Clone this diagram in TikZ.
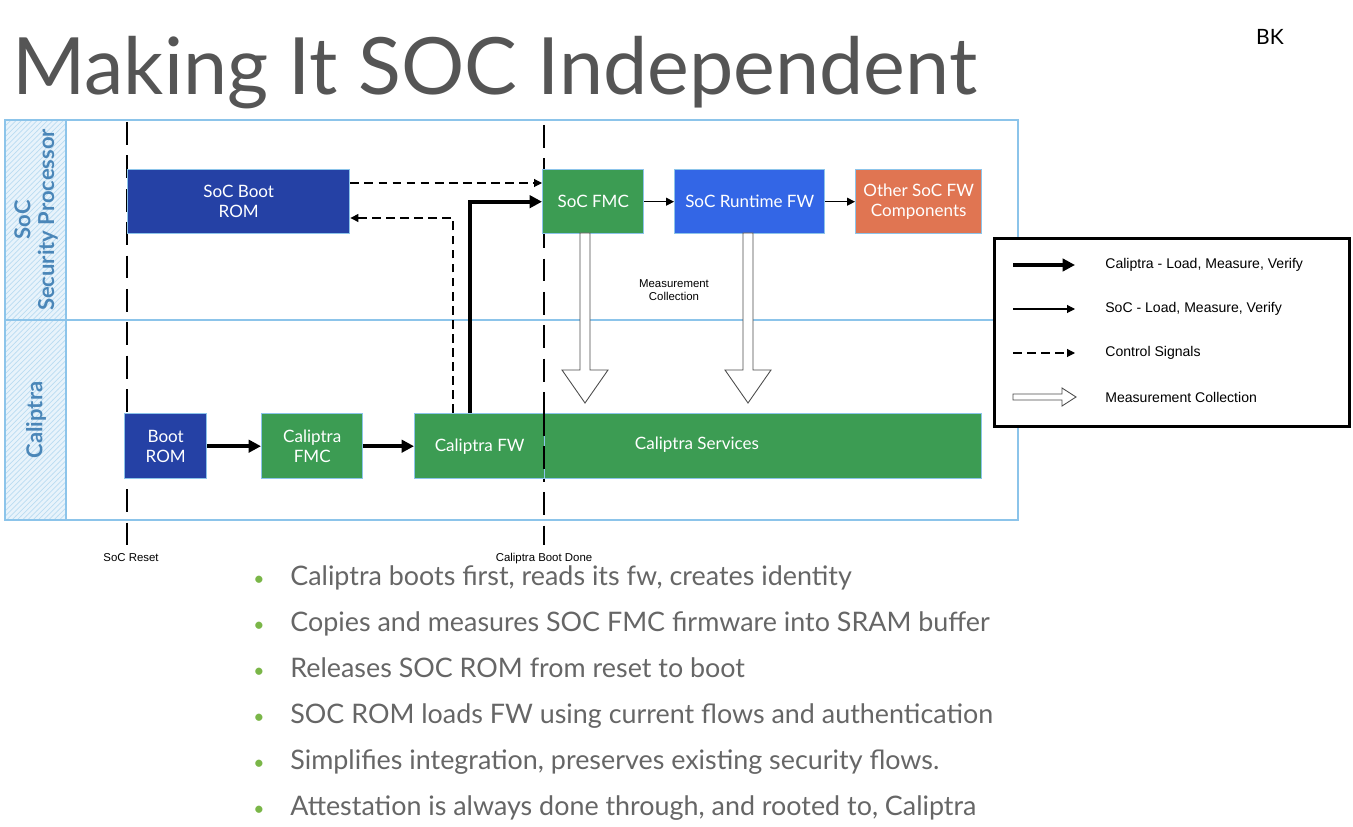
\documentclass[tikz,border=0pt]{standalone}
\usepackage{fontspec}
\setmainfont{Lato}
\newfontfamily\arialfont{Liberation Sans}
\usepackage{xcolor}
\usetikzlibrary{arrows.meta, positioning, calc, patterns}

\definecolor{laneblue}{HTML}{8CC4EA}
\definecolor{lanetext}{HTML}{4A86B8}
\definecolor{romblue}{HTML}{2541A5}
\definecolor{fwgreen}{HTML}{3C9C53}
\definecolor{rtblue}{HTML}{3366E6}
\definecolor{othorange}{HTML}{E07552}
\definecolor{titlegray}{HTML}{555555}
\definecolor{bulletgreen}{HTML}{7AB648}
\newcommand{\pxu}{0.02cm}

\begin{document}
\begin{tikzpicture}[
        x=0.02cm, y=-0.02cm,
        box/.style={rectangle, draw=laneblue, line width=0.8pt, text=white, align=center, font=\fontsize{9.7}{11.5}\selectfont, inner sep=0pt},
        lanelabel/.style={rotate=90, font=\bfseries\fontsize{12.5}{13.5}\selectfont, text=lanetext, align=center},
        small/.style={font=\arialfont\fontsize{6.5}{7.5}\selectfont, align=center},
        legtext/.style={font=\arialfont\fontsize{8}{9}\selectfont, anchor=west, inner sep=0pt},
        bullet/.style={font=\fontsize{15.3}{17}\selectfont, text=titlegray!90, anchor=base west, inner sep=0pt},
        thickarrow/.style={-{Triangle[length=7pt, width=7pt]}, line width=2.2pt},
        thinarrow/.style={-{Triangle[length=4.5pt, width=4.5pt]}, line width=0.6pt},
        ctrlarrow/.style={-{Triangle[length=4.5pt, width=4.5pt]}, line width=0.6pt, dash pattern=on 5pt off 3pt},
        timeline/.style={line width=1.2pt, dash pattern=on 13pt off 6pt},
        hollow/.style={draw=black!70, fill=white, line width=0.5pt},
    ]
        \useasboundingbox (0,0) rectangle (1353,827);

        % Title
        \node[anchor=base west, font=\fontsize{45}{50}\selectfont, text=titlegray, inner sep=0pt] (title) at (12,95) {Making It SOC Independent};
        \node[font=\fontsize{12}{13}\selectfont, text=black] (bk) at (1270,37) {BK};

        % Lanes
        \fill[laneblue!20] (5,120) rectangle (66,520);
        \fill[pattern=north east lines, pattern color=laneblue!60] (5,120) rectangle (66,520);
        \draw[laneblue, line width=1pt] (5,120) rectangle (1018,520);
        \draw[laneblue, line width=1pt] (66,120) -- (66,520);
        \draw[laneblue, line width=1pt] (5,320) -- (993,320);
        \node[lanelabel] (lanesoc) at (36,220) {SoC\\Security Processor};
        \node[lanelabel] (lanecal) at (36,420) {Caliptra};

        % Time lines
        \node[small, anchor=north] (reset) at (131,547) {SoC Reset};
        \node[small, anchor=north] (bootdone) at (544,547) {Caliptra Boot Done};
        \draw[timeline] (127,122) -- (127,545);
        \draw[timeline] (544,125) -- (544,545);

        % SoC security processor boxes
        \node[box, fill=romblue, minimum width={222*\pxu}, minimum height={64*\pxu}, anchor=north west] (socrom) at (127,169) {SoC Boot\\ROM};
        \node[box, fill=fwgreen, minimum width={101*\pxu}, minimum height={64*\pxu}, anchor=north west] (socfmc) at (542,169) {SoC FMC};
        \node[box, fill=rtblue, minimum width={150*\pxu}, minimum height={64*\pxu}, anchor=north west] (socrt) at (674,169) {SoC Runtime FW};
        \node[box, fill=othorange, minimum width={126*\pxu}, minimum height={64*\pxu}, anchor=north west] (other) at (855,169) {Other SoC FW\\Components};

        % Caliptra boxes
        \node[box, fill=romblue, minimum width={82*\pxu}, minimum height={65*\pxu}, anchor=north west] (bootrom) at (124,413) {Boot\\ROM};
        \node[box, fill=fwgreen, minimum width={101*\pxu}, minimum height={65*\pxu}, anchor=north west] (calfmc) at (261,413) {Caliptra\\FMC};
        \node[box, fill=fwgreen, minimum width={437*\pxu}, minimum height={65*\pxu}, anchor=north west] (services) at (544,413) {};
        \node[box, draw=none] (servlabel) at (697,445) {Caliptra Services};
        \node[box, fill=fwgreen, minimum width={130*\pxu}, minimum height={65*\pxu}, anchor=north west] (calfw) at (414,413) {Caliptra FW};
        \draw[timeline] (544,413) -- (544,478);

        % Caliptra flow
        \draw[thickarrow] (bootrom) -- (calfmc);
        \draw[thickarrow] (calfmc) -- (calfw);
        \draw[thickarrow] (calfw.north -| 470,0) |- (socfmc.west);
        \draw[thinarrow] (socfmc) -- (socrt);
        \draw[thinarrow] (socrt) -- (other);

        % Control signals
        \draw[ctrlarrow] ($(socrom.north east)+(0,14)$) -- ($(socfmc.north west)+(0,14)$);
        \draw[ctrlarrow] (calfw.north -| 453,0) |- ($(socrom.north east)+(0,49)$);

        % Measurement collection
        \draw[hollow] (580,233) -- (580,370) -- (562,370) -- (585,403) -- (608,370) -- (590,370) -- (590,233) -- cycle;
        \draw[hollow] (743,233) -- (743,370) -- (725,370) -- (748,403) -- (771,370) -- (753,370) -- (753,233) -- cycle;
        \node[small] (meas) at (674,290) {Measurement\\Collection};

        % Legend
        \node[draw=black, line width=1.5pt, minimum width={355*\pxu}, minimum height={188*\pxu}, anchor=north west, fill=white] (legend) at (993,237) {};
        \coordinate (l1) at (1013,265);
        \coordinate (l2) at (1013,309);
        \coordinate (l3) at (1013,353);
        \draw[thickarrow] (l1) -- ++(62,0);
        \draw[thinarrow] (l2) -- ++(62,0);
        \draw[ctrlarrow] (l3) -- ++(62,0);
        \draw[hollow] (1013,394) -- (1062,394) -- (1062,388) -- (1076,397) -- (1062,406) -- (1062,400) -- (1013,400) -- cycle;
        \node[legtext] (lt1) at (1105,265) {Caliptra - Load, Measure, Verify};
        \node[legtext] (lt2) at (1105,309) {SoC - Load, Measure, Verify};
        \node[legtext] (lt3) at (1105,353) {Control Signals};
        \node[legtext] (lt4) at (1105,397) {Measurement Collection};

        % Bullets
        \foreach \txt [count=\i] in {
            {Caliptra boots first, reads its fw, creates identity},
            {Copies and measures SOC FMC firmware into SRAM buffer},
            {Releases SOC ROM from reset to boot},
            {SOC ROM loads FW using current flows and authentication},
            {Simplifies integration, preserves existing security flows.},
            {Attestation is always done through, and rooted to, Caliptra}} {
            \node[bullet, text=bulletgreen, font=\fontsize{11}{12}\selectfont] (dot\i) at (253,585+46*\i-46) {\textbullet};
            \node[bullet] (item\i) at (290,585+46*\i-46) {\txt};
        }
    \end{tikzpicture}
\end{document}
